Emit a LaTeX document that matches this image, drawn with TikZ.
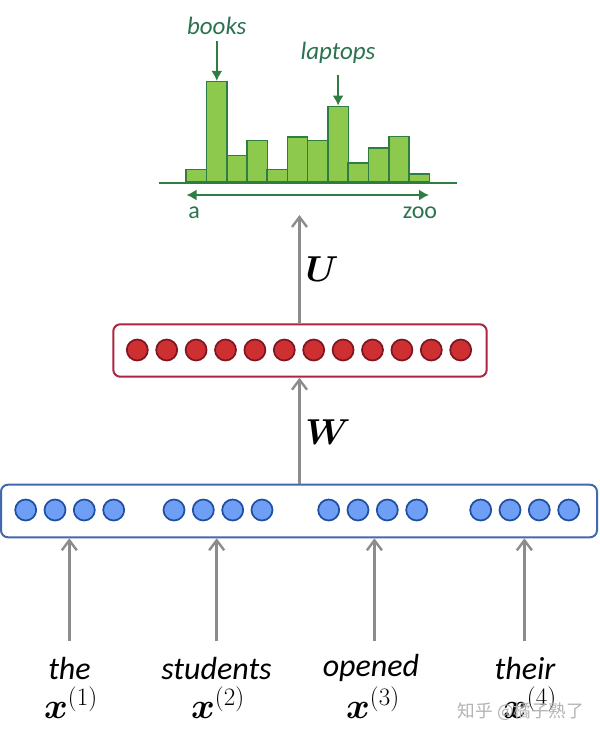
\documentclass[tikz,border=0pt]{standalone}
\usepackage{amsmath}
\usepackage{amssymb}
\usepackage{fontspec}
\setmainfont{Carlito}
\newfontfamily\cjkfont{Noto Sans CJK SC}
\usetikzlibrary{arrows.meta, positioning}
\definecolor{barfill}{HTML}{8CC94C}
\definecolor{bardraw}{HTML}{2F7D42}
\definecolor{wordgreen}{HTML}{2B7350}
\definecolor{bluefill}{HTML}{6E9FF5}
\definecolor{bluedraw}{HTML}{1E4FA0}
\definecolor{redfill}{HTML}{CE3032}
\definecolor{reddraw}{HTML}{7E1522}
\definecolor{redbox}{HTML}{A92541}
\definecolor{greyarrow}{HTML}{8C8C8C}

\begin{document}
\begin{tikzpicture}[
        x=1pt, y=-1pt, % Pixel coordinates of the picture
        mybar/.style={rectangle, draw=bardraw, fill=barfill, line width=1.4pt, inner sep=0pt, minimum width=20.3pt, anchor=south}, % Bars of the histogram
        bluedot/.style={circle, draw=bluedraw, fill=bluefill, line width=1.7pt, inner sep=0pt, minimum size=21pt}, % Input neurons
        reddot/.style={circle, draw=reddraw, fill=redfill, line width=1.7pt, inner sep=0pt, minimum size=21pt}, % Hidden neurons
        mylayer/.style={rectangle, rounded corners=7pt, line width=2pt, fill=white, inner sep=0pt}, % Box round a layer
        myarrow/.style={-{Straight Barb[length=10pt, width=15pt, line width=2.4pt]}, draw=greyarrow, line width=2.8pt}, % Grey arrows
        greenarrow/.style={-{Latex[length=10pt, width=11pt]}, draw=bardraw, line width=1.7pt}, % Arrows of the histogram
        wordlabel/.style={font=\fontsize{32}{36}\selectfont\itshape, inner sep=0pt}, % Words under the inputs
        greenlabel/.style={text=wordgreen, inner sep=0pt, font=\fontsize{24}{28}\selectfont}, % Texts of the histogram
        mathlabel/.style={inner sep=0pt, scale=1.45, font=\fontsize{25}{30}\selectfont} % Formulas
    ]
    \useasboundingbox (0,0) rectangle (600,737);
    % --- Layers ---
    \node (blue) [mylayer, draw=bluedraw!85!white, minimum width=596pt, minimum height=52.6pt] at (299,511) {};
    \node (red) [mylayer, draw=redbox, minimum width=373.4pt, minimum height=52.4pt] at (300,350.5) {};
    % --- Neurons ---
    \foreach \i/\x in {1/25.7, 2/55, 3/84.3, 4/113.7, 5/174, 6/203.3, 7/232.7, 8/262, 9/328.7, 10/358, 11/387.3, 12/416.7, 13/480.7, 14/510, 15/539.3, 16/568.7}
        \node (b\i) [bluedot] at (\x,510) {};
    \foreach \i in {1,...,12}
        \node (r\i) [reddot] at ({137.3+(\i-1)*29.4},350) {};
    % --- Histogram ---
    \foreach \i/\x/\h in {1/196.3/12.7, 2/216.8/100.4, 3/237/26.4, 4/257.2/41.4, 5/277.3/12.7, 6/297.5/45, 7/317.8/41.4, 8/338.1/75.7, 9/358.3/19, 10/378.5/34, 11/399/45.7, 12/419.3/8}
        \node (bar\i) [mybar, minimum height=\h pt] at (\x,182.7) {};
    \node (base) [inner sep=0pt, minimum width=297.4pt, minimum height=0pt] at (308,182.7) {};
    \draw[bardraw, line width=2pt] (base.west) -- (base.east);
    \node (a) [greenlabel] at (194,213) {a};
    \node (zoo) [greenlabel] at (420,213) {zoo};
    \coordinate (left) at (186.5,195);
    \coordinate (right) at (429,195);
    \draw[greenarrow, {Latex[length=10pt, width=11pt]}-{Latex[length=10pt, width=11pt]}] (left) -- (right);
    \node (books) [greenlabel, font=\fontsize{25}{28}\selectfont\itshape] at (216.7,26) {books};
    \node (laptops) [greenlabel, font=\fontsize{25}{28}\selectfont\itshape] at (338,53) {laptops};
    \coordinate (booksend) at (216.8,41);
    \coordinate (laptopsend) at (338.1,75);
    \draw[greenarrow] (booksend) -- (bar2.north);
    \draw[greenarrow] (laptopsend) -- (bar8.north);
    % --- Words and formulas ---
    \node (w1) [wordlabel] at (69.5,668) {the};
    \node (w2) [wordlabel] at (216.5,668) {students};
    \node (w3) [wordlabel] at (371,668) {opened};
    \node (w4) [wordlabel] at (525,668) {their};
    \node (x1) [mathlabel] at (71,703) {$\boldsymbol{x}^{(1)}$};
    \node (x2) [mathlabel] at (218,703) {$\boldsymbol{x}^{(2)}$};
    \node (x3) [mathlabel] at (373,703) {$\boldsymbol{x}^{(3)}$};
    \node (x4) [mathlabel] at (530,703) {$\boldsymbol{x}^{(4)}$};
    \node (mark) [inner sep=0pt, text=black!30, font=\fontsize{17.6}{20}\cjkfont] at (521,712) {知乎 @橘子熟了};
    % --- Connections ---
    \coordinate (in1) at (69.3,641);
    \coordinate (in2) at (216.7,641);
    \coordinate (in3) at (374.4,641);
    \coordinate (in4) at (524.4,641);
    \foreach \i in {1,...,4}
        \draw[myarrow] (in\i) -- (in\i |- blue.south);
    \coordinate (top) at (299.5,215);
    \draw[myarrow] (blue.north -| top) -- (red.south -| top);
    \draw[myarrow] (red.north -| top) -- (top);
    \node (U) [inner sep=0pt, scale=1.45, font=\fontsize{24.88}{30}\selectfont] at (322,269) {$\boldsymbol{U}$};
    \node (W) [inner sep=0pt, scale=1.45, font=\fontsize{24.88}{30}\selectfont] at (328,432) {$\boldsymbol{W}$};
\end{tikzpicture}
\end{document}
